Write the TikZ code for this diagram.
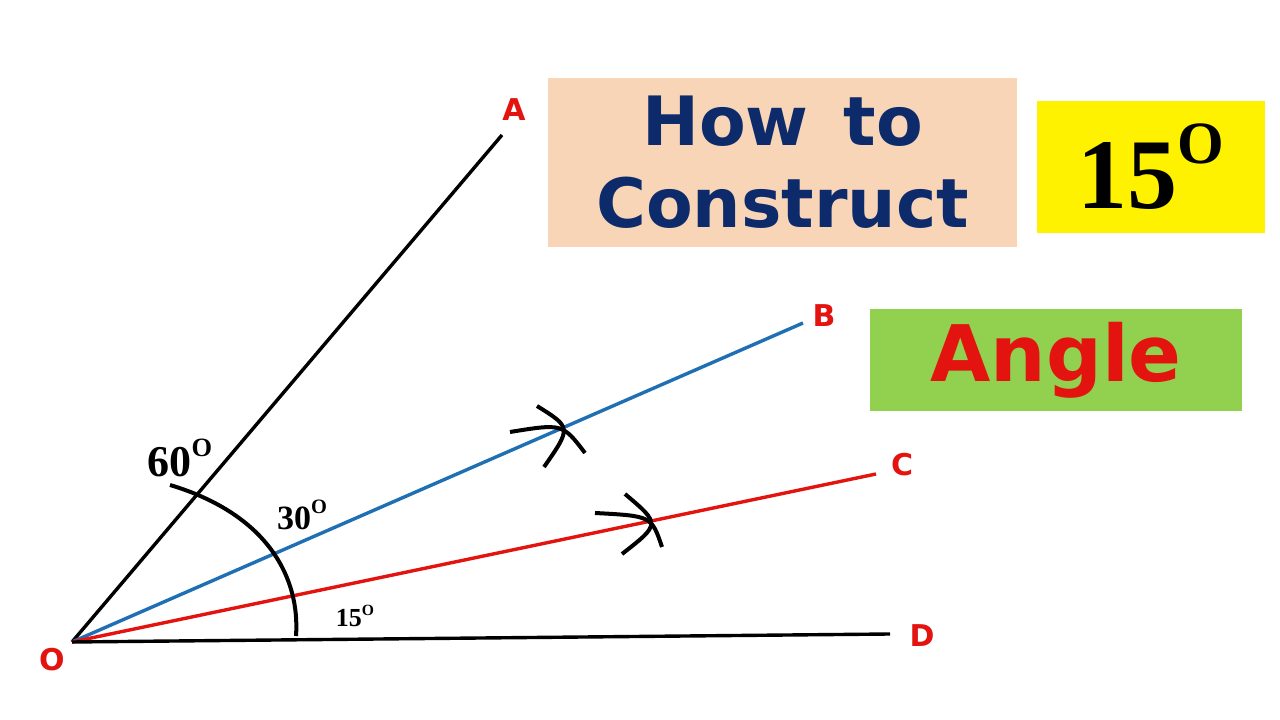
\documentclass[tikz,border=0pt]{standalone}
\usepackage{fontspec}
\setmainfont{Liberation Serif}
\newfontfamily\dejab{DejaVu Sans}
\definecolor{peach}{HTML}{F8D5B6}
\definecolor{navy}{HTML}{0D2A6B}
\definecolor{grn}{HTML}{92D050}
\definecolor{blu}{HTML}{1F6FB5}
\definecolor{rd}{HTML}{E3140F}
\newcommand{\dg}{\raisebox{0.45em}{\scalebox{0.6}{O}}}
\tikzset{lbl/.style={text=rd,font=\dejab\bfseries\fontsize{30}{30}\selectfont},
ang/.style={font=\bfseries},
ray/.style={line width=3.4pt},
arcm/.style={line width=4pt}}
\begin{document}
\begin{tikzpicture}[x=1pt,y=1pt]
\useasboundingbox (0,0) rectangle (1280,720);
\fill[white] (0,0) rectangle (1280,720);
\coordinate (O) at (72,78);
\coordinate (A) at (502,585);
\coordinate (B) at (803,397);
\coordinate (C) at (876,246);
\coordinate (D) at (890,86);
\draw[ray] (O) -- (A);
\draw[ray,blu] (O) -- (B);
\draw[ray,rd] (O) -- (C);
\draw[ray] (O) -- (D);
\draw[arcm] (170,235) .. controls (270,205) and (300,140) .. (296,84);
\draw[arcm] (537,314) .. controls (571.5,292.5) .. (544,253);
\draw[arcm] (510,288) .. controls (562.5,296.5) .. (585,267);
\draw[arcm] (625,226) .. controls (660.5,196) .. (622,166);
\draw[arcm] (595,207) .. controls (651.5,204) .. (662,173);
\node[lbl] (la) at (514,610) {A};
\node[lbl] (lb) at (824,404) {B};
\node[lbl] (lc) at (902,255) {C};
\node[lbl] (ld) at (922,84) {D};
\node[lbl] (lo) at (52,60) {O};
\node[ang,font=\bfseries\fontsize{44}{44}\selectfont] (a60) at (180,262) {60\dg};
\node[ang,font=\bfseries\fontsize{34}{34}\selectfont] (a30) at (302,205) {30\dg};
\node[ang,font=\bfseries\fontsize{26}{26}\selectfont] (a15) at (355,104) {15\dg};
\node[fill=peach,minimum width=469,minimum height=169,inner sep=0,align=center,text=navy,
 font=\dejab\bfseries\fontsize{68}{82}\selectfont] (t1) at (782.5,557.5) {How\, to\\Construct};
\node[fill=yellow,minimum width=228,minimum height=132,inner sep=0,
 font=\bfseries\fontsize{100}{100}\selectfont] (t2) at (1151,553) {15\dg};
\node[fill=grn,minimum width=372,minimum height=102,inner sep=0,text=rd,
 font=\dejab\bfseries\fontsize{78}{78}\selectfont] (t3) at (1056,360) {Angle};
\end{tikzpicture}
\end{document}
